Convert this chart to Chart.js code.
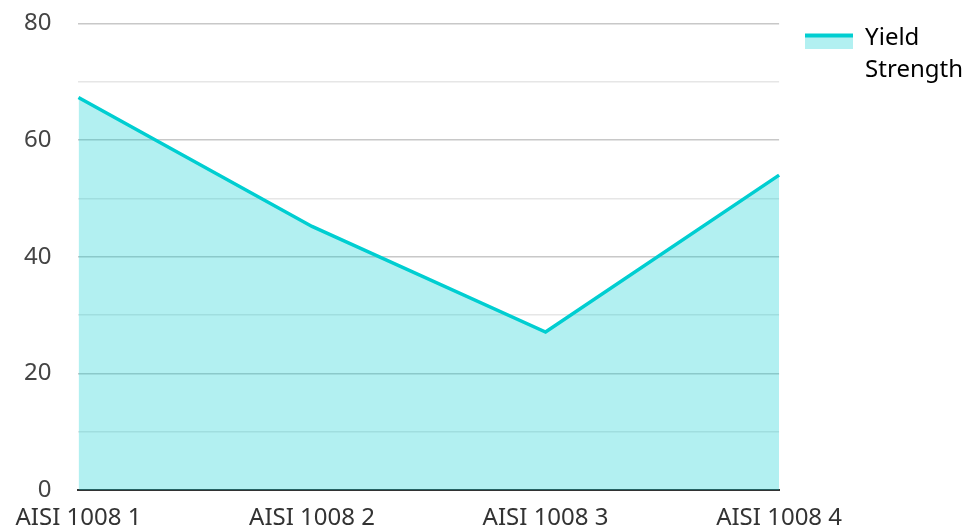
<!DOCTYPE html>
<html>
<head>
<meta charset="utf-8">
<script src="https://cdn.jsdelivr.net/npm/chart.js@4/dist/chart.umd.min.js"></script>
<style>
  html, body { margin: 0; padding: 0; background: #fff; }
  #wrap { width: 966px; height: 531px; }
</style>
</head>
<body>
<div id="wrap"><canvas id="yieldChart"></canvas></div>
<script>
// Chart data
const grades = ['AISI 1008 1', 'AISI 1008 2', 'AISI 1008 3', 'AISI 1008 4'];
const yieldStrength = [67.3, 45.2, 27.1, 54];
const seriesLabel = ['Yield', 'Strength'];
const yMin = 0;
const yMax = 80;

const lineColor = 'rgb(0, 206, 209)';
const fillColor = 'rgba(0, 206, 209, 0.3)';

// Legend swatch: thick line on top of a light band
function makeSwatch() {
  const c = document.createElement('canvas');
  c.width = 48;
  c.height = 21;
  const g = c.getContext('2d');
  g.fillStyle = fillColor;
  g.fillRect(0, 6, 48, 15);
  g.fillStyle = lineColor;
  g.fillRect(0, 6, 48, 4);
  return c;
}

Chart.defaults.font.family = "'Noto Sans', sans-serif";
Chart.defaults.font.size = 24;
Chart.defaults.color = '#333';

const ctx = document.getElementById('yieldChart').getContext('2d');

new Chart(ctx, {
  type: 'line',
  data: {
    labels: grades,
    datasets: [{
      label: seriesLabel,
      data: yieldStrength,
      borderColor: lineColor,
      backgroundColor: fillColor,
      borderWidth: 3.5,
      tension: 0,
      fill: 'origin',
      pointRadius: 0,
      pointHoverRadius: 0
    }]
  },
  options: {
    responsive: true,
    maintainAspectRatio: false,
    animation: false,
    layout: {
      padding: { top: 0, right: -7, bottom: -16, left: 15 }
    },
    scales: {
      x: {
        offset: false,
        grid: { display: false, drawTicks: false },
        border: { display: true, color: '#333', width: 2 },
        ticks: { padding: 14, maxRotation: 0, autoSkip: false, color: '#333' }
      },
      y: {
        min: yMin,
        max: yMax,
        border: { display: false },
        grid: {
          drawTicks: true,
          tickLength: 18,
          tickColor: 'rgba(0,0,0,0)',
          color: function(context) {
            const v = context.tick ? context.tick.value : 0;
            return v % 20 === 0 ? '#c8c8c8' : '#e6e6e6';
          },
          lineWidth: 1.5
        },
        ticks: {
          stepSize: 10,
          padding: 9,
          color: '#444',
          callback: function(value) {
            return value % 20 === 0 ? value : '';
          }
        }
      }
    },
    plugins: {
      legend: {
        position: 'right',
        align: 'start',
        labels: {
          usePointStyle: true,
          pointStyleWidth: 48,
          boxHeight: 15,
          padding: 26,
          color: '#333',
          font: { size: 24, lineHeight: 1.33 },
          generateLabels: function(chart) {
            const ds = chart.data.datasets[0];
            return [{
              text: ds.label,
              pointStyle: makeSwatch(),
              fillStyle: fillColor,
              strokeStyle: lineColor,
              lineWidth: 0,
              hidden: false,
              datasetIndex: 0
            }];
          }
        }
      },
      tooltip: { enabled: false }
    }
  }
});
</script>
</body>
</html>
